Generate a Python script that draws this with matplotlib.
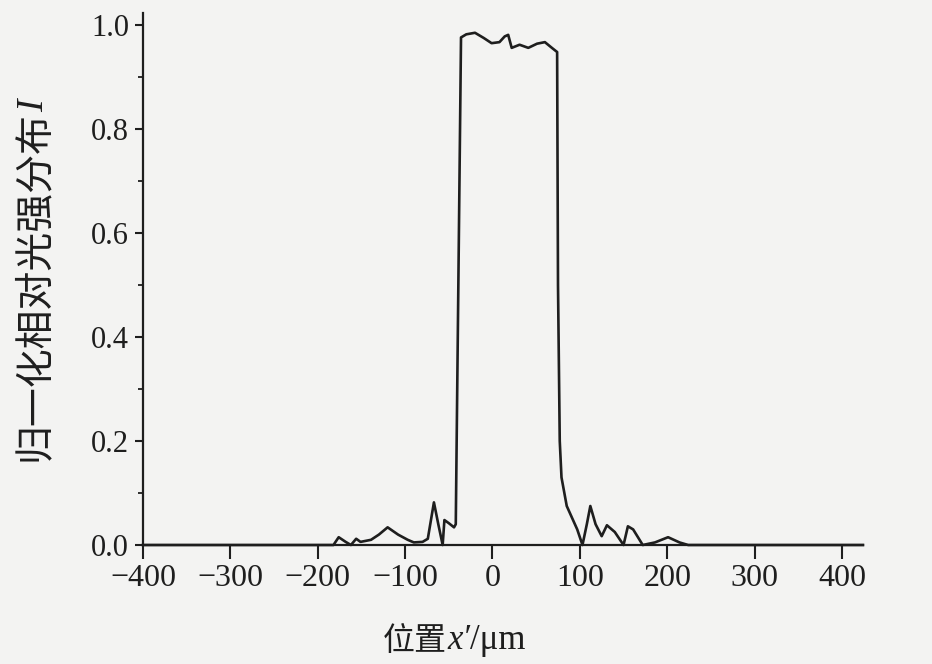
import numpy as np
import matplotlib
matplotlib.use("Agg")
import matplotlib.pyplot as plt

# normalized intensity profile
position = [-400, -185, -182, -176, -168, -162, -156, -151, -139, -130, -120,
            -108, -97, -90, -80, -74, -67, -62, -57, -55, -50, -44, -42,
            -36, -30, -20, -10, -1, 8, 14, 18, 22, 31, 41, 51, 60, 68, 74,
            75, 77, 79, 85, 97, 103, 108, 112, 118, 125, 131, 140, 150, 155,
            161, 172, 186, 201, 214, 224, 424]
intensity = [0.0, 0.0, 0.0, 0.015, 0.006, 0.0, 0.012, 0.006, 0.01, 0.02, 0.034,
             0.02, 0.01, 0.005, 0.006, 0.012, 0.082, 0.04, 0.0, 0.048, 0.042, 0.034, 0.04,
             0.976, 0.982, 0.985, 0.975, 0.965, 0.967, 0.978, 0.981, 0.956, 0.962,
             0.956, 0.964, 0.967, 0.956, 0.948,
             0.5, 0.2, 0.13, 0.075, 0.03, 0.0, 0.04, 0.075, 0.04, 0.017, 0.038, 0.025,
             0.0, 0.036, 0.03, 0.0, 0.005, 0.015, 0.005, 0.0, 0.0]

x_ticks = [-400, -300, -200, -100, 0, 100, 200, 300, 400]
y_ticks = [0.0, 0.2, 0.4, 0.6, 0.8, 1.0]
y_minor = [0.1, 0.3, 0.5, 0.7, 0.9]

plt.rcParams['font.family'] = ['Liberation Serif', 'Noto Sans CJK SC']

paper = '#f3f3f2'
ink = '#1e1e1e'
cjk = ['Noto Sans CJK SC', 'Liberation Serif']

fig = plt.figure(figsize=(9.32, 6.64), dpi=100, facecolor=paper)
ax = fig.add_axes([0.1534, 0.1792, 0.7725, 0.8012])
ax.set_facecolor(paper)

ax.plot(position, intensity, color=ink, linewidth=1.9, clip_on=False)

ax.set_xlim(-400, 424)
ax.set_ylim(0, 1.023)
ax.set_xticks(x_ticks)
ax.set_yticks(y_ticks)
ax.set_yticks(y_minor, minor=True)
ax.set_yticklabels(['%.1f' % v for v in y_ticks])

for s in ['top', 'right']:
    ax.spines[s].set_visible(False)
for s in ['left', 'bottom']:
    ax.spines[s].set_linewidth(1.6)
    ax.spines[s].set_color(ink)

ax.tick_params(axis='x', direction='out', length=10, width=1.5, colors=ink,
               labelsize=23, pad=4)
ax.tick_params(axis='y', which='major', direction='out', length=6, width=1.5,
               colors=ink, labelsize=22, pad=4)
ax.tick_params(axis='y', which='minor', direction='out', length=3.5, width=1.3,
               colors=ink)

# y label: CJK part + italic I stacked upward
yl = fig.text(0.036, 0.305, '归一化相对光强分布', rotation=90, ha='center', va='bottom',
              fontsize=28, color=ink, family=cjk, fontweight='light')
ax.annotate('I', xy=(0.5, 1.0), xycoords=yl, rotation=90, ha='center', va='bottom',
            fontsize=27, color=ink, family='Liberation Serif', style='italic',
            annotation_clip=False)

# x label: 位置 x′/μm
xl = fig.text(0.411, 0.035, '位置', ha='left', va='center', fontsize=23, color=ink,
              family=cjk, fontweight='light')
x2 = ax.annotate('x′', xy=(1.0, 0.5), xycoords=xl, ha='left', va='center',
                 fontsize=25, color=ink, family='Liberation Serif', style='italic',
                 annotation_clip=False)
ax.annotate('/μm', xy=(1.0, 0.5), xycoords=x2, ha='left', va='center',
            fontsize=25, color=ink, family='Liberation Serif',
            annotation_clip=False)

fig.savefig('out.png', dpi=100, facecolor=paper)
